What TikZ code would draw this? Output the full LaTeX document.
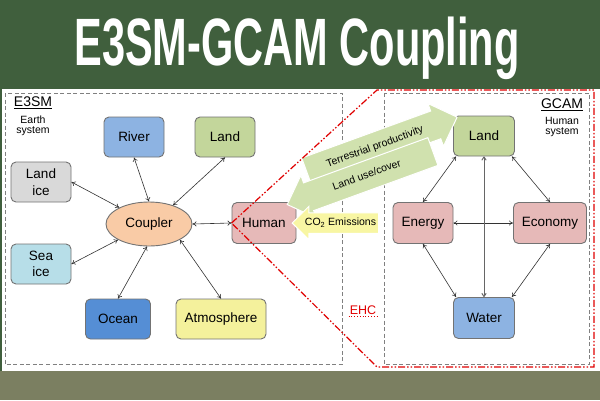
\documentclass[tikz,border=0pt]{standalone}
\usepackage{fontspec}
\setmainfont{Liberation Sans}
\usetikzlibrary{arrows.meta,shapes.geometric,shapes.arrows}

\definecolor{boardgreen}{HTML}{405F3D}
\definecolor{boardolive}{HTML}{7B7F61}
\definecolor{riverblue}{HTML}{8DB3E2}
\definecolor{oceanblue}{HTML}{558ED5}
\definecolor{landgreen}{HTML}{C3D69B}
\definecolor{icegray}{HTML}{D9D9D9}
\definecolor{icecyan}{HTML}{B7DEE8}
\definecolor{atmosyellow}{HTML}{F4F19C}
\definecolor{couplerpeach}{HTML}{F9CBA6}
\definecolor{humanpink}{HTML}{E6B9B8}
\definecolor{flowgreen}{HTML}{D0E1AE}
\definecolor{flowyellow}{HTML}{F8F6A3}
\definecolor{ehcred}{HTML}{E00000}

\begin{document}
\begin{tikzpicture}[x=1pt, y=-1pt, >={To[length=4pt,width=5pt]},
    comp/.style={draw=black!55, line width=0.9pt, rounded corners=5pt,
        font=\fontsize{13.5}{16.5}\selectfont, align=center, inner sep=0pt,
        minimum height=40pt},
    link/.style={<->, draw=black!80, line width=0.6pt},
    sysbox/.style={draw=black!50, line width=0.9pt, dash pattern=on 4pt off 2.5pt},
    ehcline/.style={draw=ehcred, line width=1.2pt,
        dash pattern=on 7pt off 2pt on 1.5pt off 2pt on 1.5pt off 2pt},
    flow/.style={single arrow, single arrow tip angle=90, draw=white, line width=1pt,
        font=\fontsize{10.5}{12}\selectfont, text height=7.5pt, text depth=2pt, inner xsep=2pt},
    note/.style={font=\fontsize{10.5}{13}\selectfont, align=center}]

    % board and panel
    \fill[boardgreen] (0,0) rectangle (600,400);
    \fill[boardolive] (0,371) rectangle (600,400);
    \fill[white] (2,89) rectangle (600,371);
    \node[anchor=base, text=white, xscale=0.62, font=\fontsize{67}{70}\selectfont\bfseries] (title) at (297,65) {E3SM-GCAM Coupling};

    % system boxes
    \draw[sysbox] (5,93) rectangle (342,364);
    \draw[sysbox] (384,93) rectangle (589,364);
    \node[font=\fontsize{14}{16}\selectfont] (e3sm) at (33,103) {\underline{E3SM}};
    \node[note] (earth) at (33,126) {Earth\\[-2.5pt]system};
    \node[font=\fontsize{14}{16}\selectfont] (gcam) at (562,105) {\underline{GCAM}};
    \node[note] (humansys) at (562,127) {Human\\[-2.5pt]system};

    % Earth system components
    \node[comp, fill=riverblue, minimum width=60pt] (river) at (134,137) {River};
    \node[comp, fill=landgreen, minimum width=60pt] (landE) at (225,137) {Land};
    \node[comp, fill=icegray, minimum width=60pt] (landice) at (41,182) {Land\\ice};
    \node[comp, fill=icecyan, minimum width=60pt] (seaice) at (41,264) {Sea\\ice};
    \node[comp, fill=oceanblue, minimum width=65pt] (ocean) at (118,319) {Ocean};
    \node[comp, fill=atmosyellow, minimum width=90pt] (atmos) at (221,319) {Atmosphere};
    \node[ellipse, draw=black!55, line width=0.9pt, fill=couplerpeach, minimum width=86pt,
        minimum height=44pt, inner sep=0pt, font=\fontsize{13.5}{16.5}\selectfont] (coupler) at (149,224) {Coupler};
    \node[comp, fill=humanpink, minimum width=64pt, minimum height=41pt] (human) at (264,223) {Human};

    % Human system components
    \node[comp, fill=landgreen, minimum width=61pt] (landR) at (484,136) {Land};
    \node[comp, fill=humanpink, minimum width=60pt, minimum height=41pt] (energy) at (423,223) {Energy};
    \node[comp, fill=humanpink, minimum width=73pt, minimum height=41pt] (economy) at (550,223) {Economy};
    \node[comp, fill=riverblue, minimum width=61pt, minimum height=41pt] (water) at (484,318) {Water};

    % coupler links
    \draw[link] (coupler.north) -- (river.south);
    \draw[link] (coupler.38) -- (landE.south);
    \draw[link] (coupler.151) -- (landice.east);
    \draw[link] (coupler.207) -- (seaice.east);
    \draw[link] (coupler.265) -- (ocean.north);
    \draw[link] (coupler.333) -- (atmos.north);
    \draw[link] (coupler.east) -- (human.west);

    % GCAM links
    \draw[link] (energy.north) -- ([xshift=3pt]landR.south west);
    \draw[link] (economy.north) -- ([xshift=-3pt]landR.south east);
    \draw[link] (energy.east) -- (economy.west);
    \draw[link, draw=black!60, line width=1pt] (water.north) -- (landR.south);
    \draw[link] (energy.south) -- ([xshift=3pt]water.north west);
    \draw[link] (economy.south) -- ([xshift=-3pt]water.north east);

    % exchanges between the models
    \node[flow, fill=flowgreen, rotate=20, minimum height=160pt, inner ysep=9.5pt,
        single arrow head extend=8pt] (prodflow) at (375,147) {Terrestrial productivity};
    \node[flow, fill=flowgreen, rotate=20, shape border rotate=180, minimum height=155pt,
        inner ysep=9.5pt, single arrow head extend=8pt] (landflow) at (367,175.5) {Land use/cover};
    \node[flow, fill=flowyellow, shape border rotate=180, minimum height=85pt,
        inner ysep=5pt, single arrow head extend=6.5pt] (co2flow) at (340.5,223) {CO\textsubscript{2} Emissions};

    % EHC region
    \draw[ehcline] (human.west) -- (377,90) -- (594,90) -- (594,367) -- (377,367) -- cycle;
    \node[text=ehcred, font=\fontsize{12.5}{14}\selectfont, inner sep=1pt] (ehc) at (363,310) {EHC};
    \draw[ehcred, dotted, line width=0.8pt] ([yshift=-1pt]ehc.south west) -- ([yshift=-1pt]ehc.south east);
\end{tikzpicture}
\end{document}
